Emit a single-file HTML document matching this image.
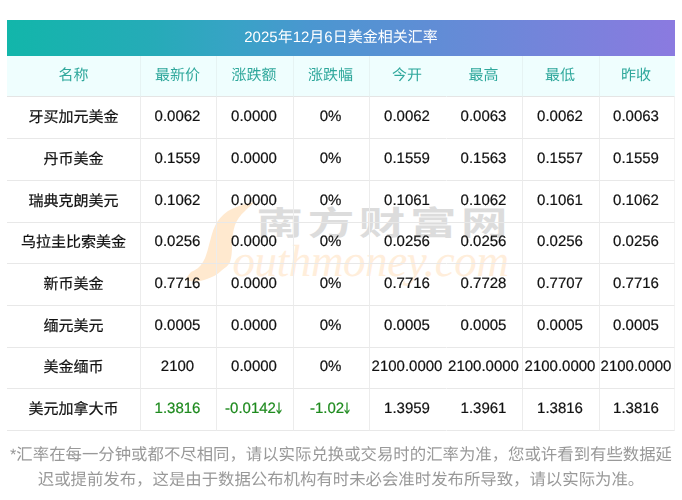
<!DOCTYPE html>
<html lang="zh-CN">
<head>
<meta charset="utf-8">
<title>2025年12月6日美金相关汇率</title>
<style>
html,body{margin:0;padding:0;background:#fff;}
body{text-rendering:geometricPrecision;width:682px;height:500px;overflow:hidden;position:relative;font-family:"Liberation Sans","Noto Sans CJK SC",sans-serif;}
#wrap{position:absolute;left:7px;top:20px;width:668px;}
table{border-collapse:separate;border-spacing:0;width:668px;table-layout:fixed;}

caption{height:36px;line-height:35px;color:#fff;font-size:15px;text-align:center;
 background:linear-gradient(90deg,#12b6aa 0%,#26abb8 22%,#38a3c6 34%,#4a97d0 45%,#8b7ae0 100%);}
th{height:41px;padding:0 0 3px 0;background:#effefe;color:#2fa89c;font-weight:normal;font-size:15px;text-align:center;border-right:1px solid #e6f3f3;border-bottom:1px solid #e5e5e5;box-sizing:border-box;}
td{-webkit-text-stroke-width:0.2px;height:42px;padding:0 0 2px 0;font-size:15px;color:#111;text-align:center;border-right:1px solid #ececec;border-bottom:1px solid #e8e8e8;box-sizing:border-box;white-space:nowrap;}
th:nth-child(5),td:nth-child(5){border-right-color:transparent;}
th:last-child{border-right-color:transparent;}
td:last-child{border-right-color:#f3f3f3;}
tr.g td.gr{color:#1e8a1e;}
tr.h41 td{height:41px;padding-bottom:4px;}
td+td,th+th{padding-right:2px;}
caption b{font-weight:normal;}
.ar{font-family:"IPAGothic","Liberation Sans",sans-serif;font-size:13px;margin-left:-3.5px;margin-right:-2.5px;}
#note{position:absolute;left:7px;top:443px;width:668px;text-align:center;color:#999;font-size:16.4px;line-height:25px;}
#wm{position:absolute;left:0;top:0;width:682px;height:500px;z-index:0;pointer-events:none;}
#wrap{z-index:1;will-change:transform;}
#note{will-change:transform;}
#wm .cn{position:absolute;left:256.5px;top:194.7px;font-family:"Noto Sans CJK SC","WenQuanYi Zen Hei",sans-serif;font-weight:700;font-size:46.5px;line-height:52px;letter-spacing:4.65px;color:#dcdcdc;white-space:nowrap;transform-origin:0 50%;transform:scaleY(0.717);}
#wm .en{position:absolute;left:232.5px;top:235px;letter-spacing:-0.4px;font-family:"Liberation Serif",serif;font-style:italic;font-size:45px;line-height:52px;color:#ffeedb;white-space:nowrap;}
#wm svg{position:absolute;left:0;top:0;}
</style>
</head>
<body>
<div id="wm">
<svg width="682" height="500" viewBox="0 0 682 500"><path d="M255 202 C247 203 237 206 228 211 C222 215 218 220 215.5 225 C212 232 211 238 209 245 C207.5 251 206 257 203 262 C200 267 196 270 191 272 C189 274 187 277 185 280 C192 282 200 282 207 279 C213 277 218 274 221 271 C226 267 229 265 230 262 C232 256 232 250 232 245 C232 238 233 231 235 225 C237 220 240 215 245 211 C248 208 252 204 255 202 Z" fill="#ffe9cf"/></svg>
<div class="cn">南方财富网</div>
<div class="en">outhmoney.com</div>
</div>
<div id="wrap">
<table>
<caption><b>2025</b>年<b>12</b>月<b>6</b>日美金相关汇率</caption>
<colgroup><col style="width:134px"><col style="width:76px"><col style="width:77px"><col style="width:76px"><col style="width:77px"><col style="width:76px"><col style="width:77px"><col style="width:75px"></colgroup>
<thead><tr><th>名称</th><th>最新价</th><th>涨跌额</th><th>涨跌幅</th><th>今开</th><th>最高</th><th>最低</th><th>昨收</th></tr></thead>
<tbody>
<tr><td>牙买加元美金</td><td>0.0062</td><td>0.0000</td><td>0%</td><td>0.0062</td><td>0.0063</td><td>0.0062</td><td>0.0063</td></tr>
<tr><td>丹币美金</td><td>0.1559</td><td>0.0000</td><td>0%</td><td>0.1559</td><td>0.1563</td><td>0.1557</td><td>0.1559</td></tr>
<tr><td>瑞典克朗美元</td><td>0.1062</td><td>0.0000</td><td>0%</td><td>0.1061</td><td>0.1062</td><td>0.1061</td><td>0.1062</td></tr>
<tr class="h41"><td>乌拉圭比索美金</td><td>0.0256</td><td>0.0000</td><td>0%</td><td>0.0256</td><td>0.0256</td><td>0.0256</td><td>0.0256</td></tr>
<tr><td>新币美金</td><td>0.7716</td><td>0.0000</td><td>0%</td><td>0.7716</td><td>0.7728</td><td>0.7707</td><td>0.7716</td></tr>
<tr><td>缅元美元</td><td>0.0005</td><td>0.0000</td><td>0%</td><td>0.0005</td><td>0.0005</td><td>0.0005</td><td>0.0005</td></tr>
<tr class="h41"><td>美金缅币</td><td>2100</td><td>0.0000</td><td>0%</td><td>2100.0000</td><td>2100.0000</td><td>2100.0000</td><td>2100.0000</td></tr>
<tr class="g"><td>美元加拿大币</td><td class="gr">1.3816</td><td class="gr">-0.0142<span class="ar">↓</span></td><td class="gr">-1.02<span class="ar">↓</span></td><td>1.3959</td><td>1.3961</td><td>1.3816</td><td>1.3816</td></tr>
</tbody>
</table>
</div>
<div id="note">*汇率在每一分钟或都不尽相同，请以实际兑换或交易时的汇率为准，您或许看到有些数据延迟或提前发布，这是由于数据公布机构有时未必会准时发布所导致，请以实际为准。</div>
</body>
</html>
